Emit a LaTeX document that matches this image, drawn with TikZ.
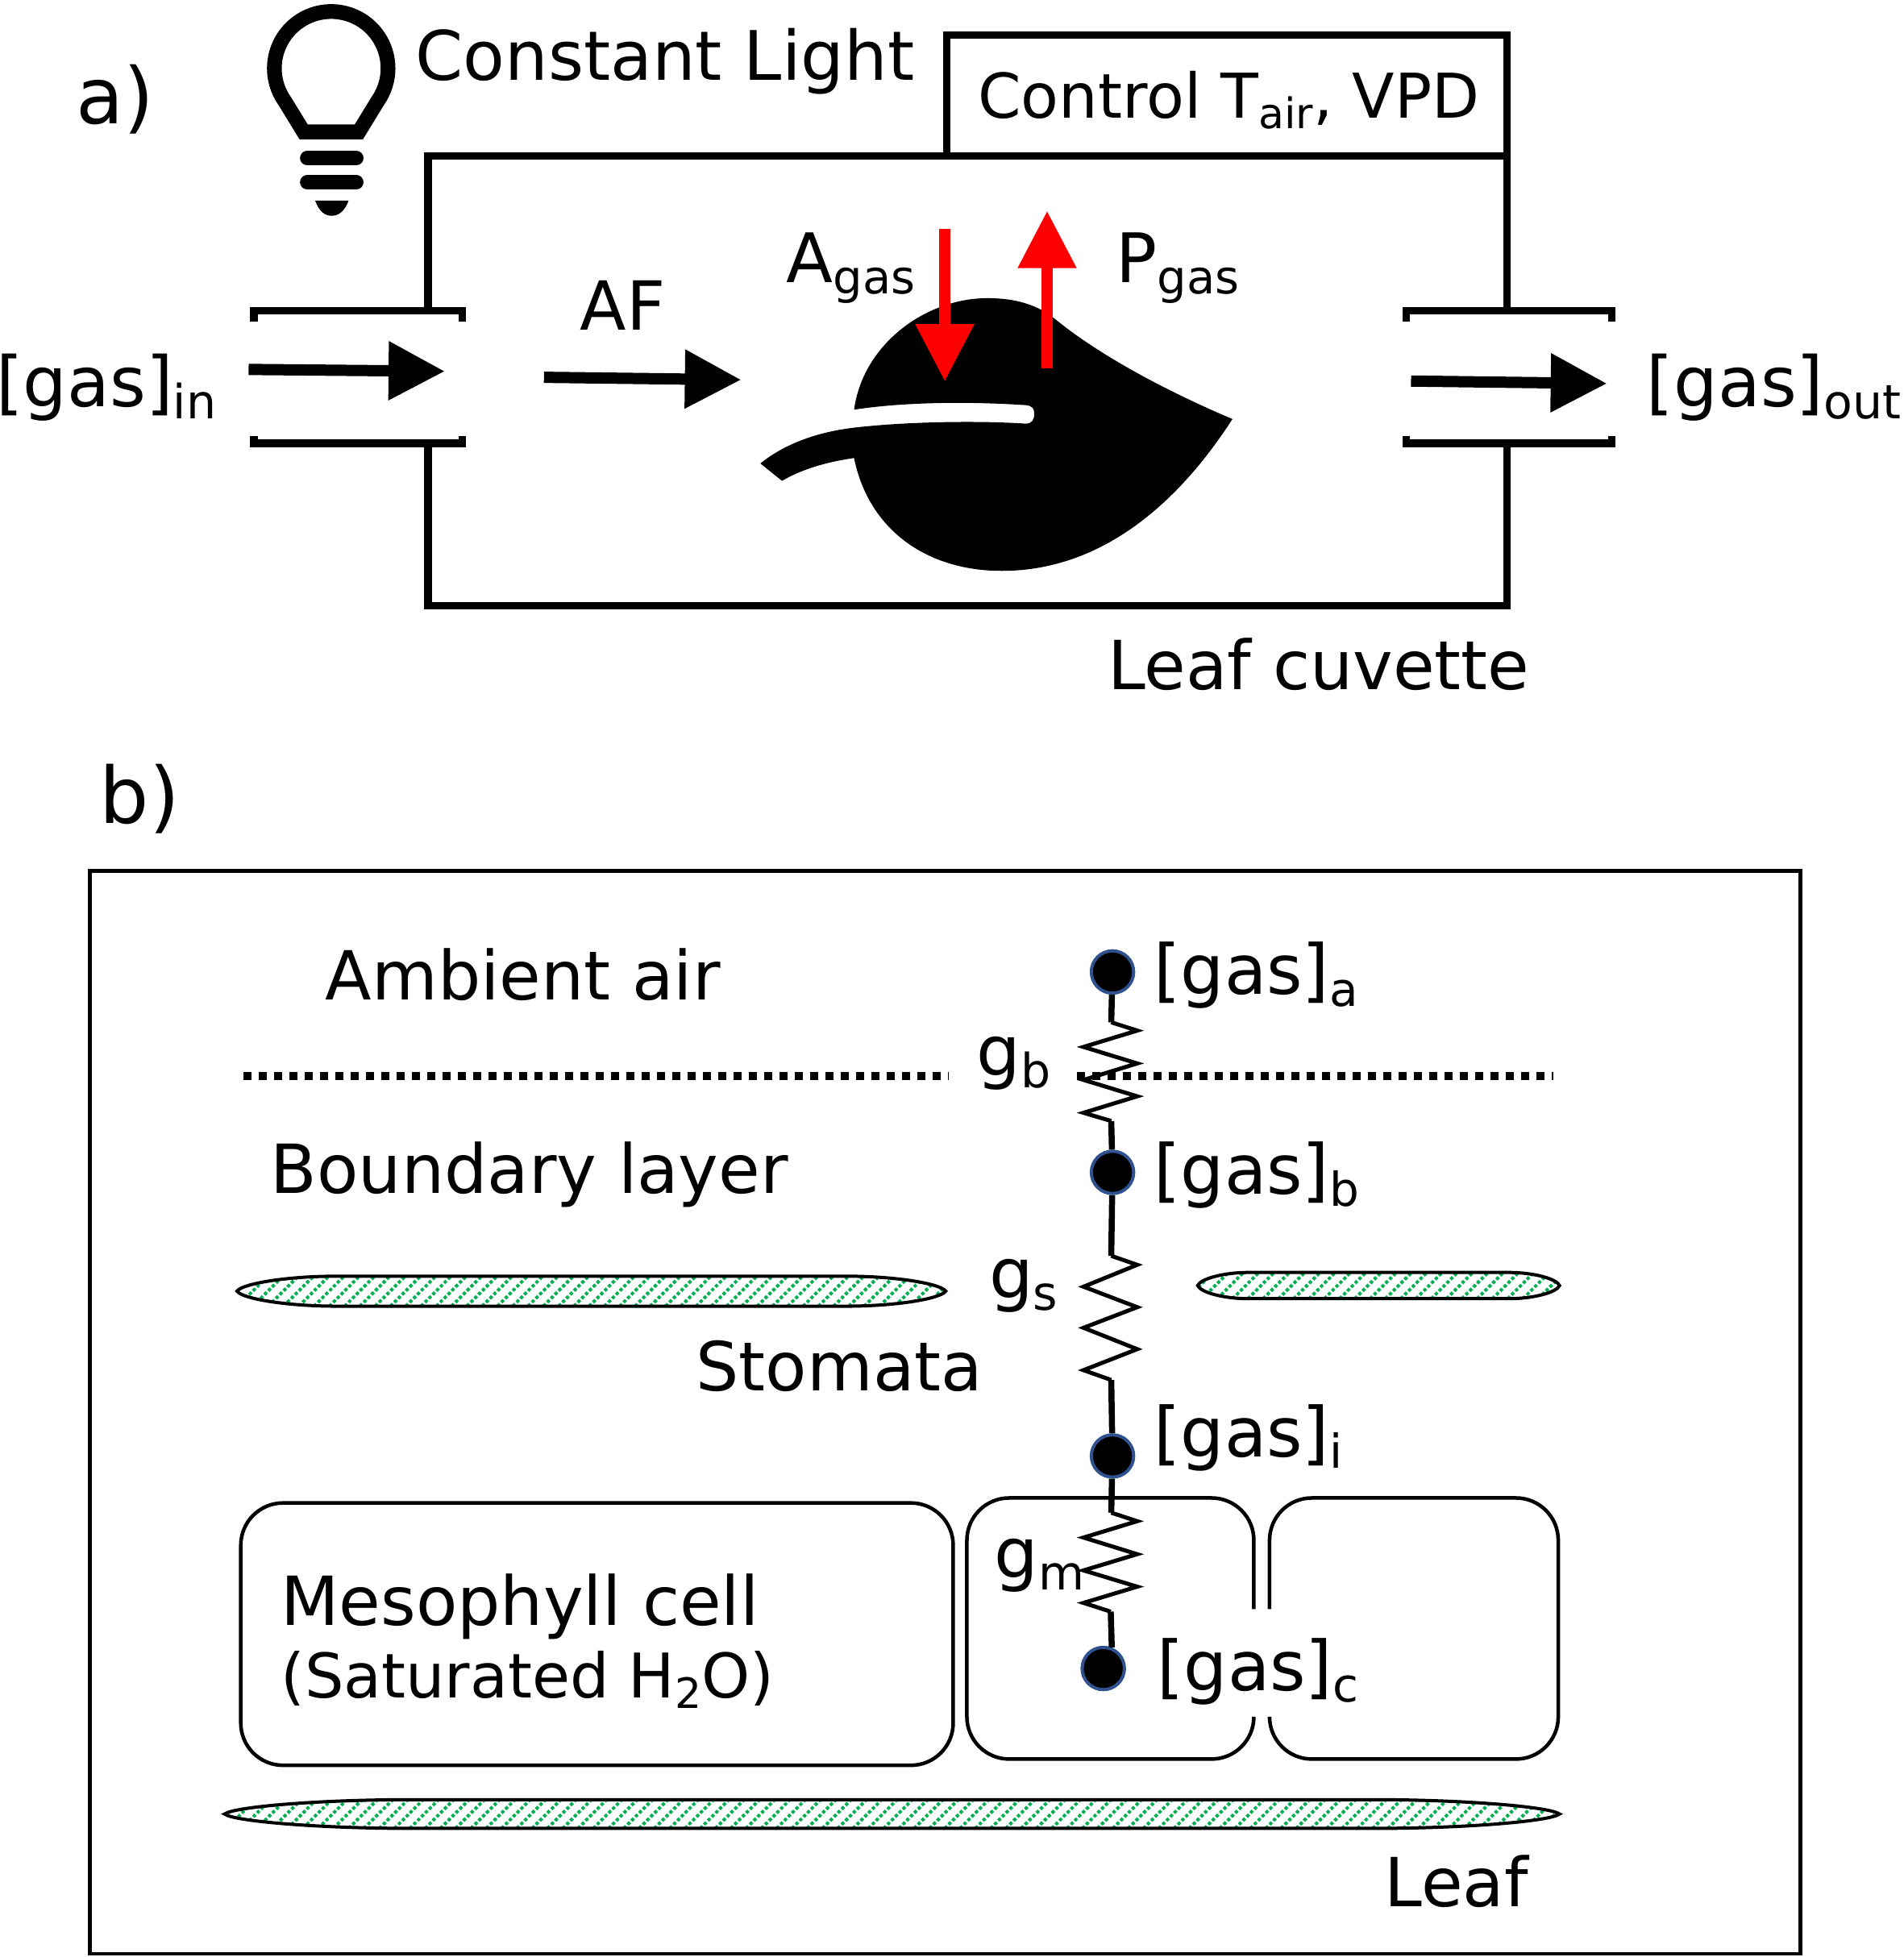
\documentclass[tikz,border=0pt]{standalone}
\usepackage{fontspec}
\usepackage{scalefnt}
\setmainfont{DejaVu Sans}
\usetikzlibrary{arrows.meta}
\definecolor{hatchgreen}{HTML}{00B050}
\definecolor{dotblue}{HTML}{2F528F}
\newcommand{\sbs}[1]{\raisebox{-.17em}{\scalefont{.68}#1}}
\newcommand{\fs}[1]{\fontsize{#1}{#1}\selectfont}
\newcommand{\stomabar}[4]{% x0, x1, yc, half height
  \pgfmathsetmacro{\ell}{0.14*(#2-#1)}
  \pgfmathsetmacro{\xa}{#1+\ell}
  \pgfmathsetmacro{\xb}{#2-\ell}
  \pgfmathsetmacro{\xc}{#1+0.5*\ell}
  \pgfmathsetmacro{\xd}{#2-0.5*\ell}
  \pgfmathsetmacro{\xe}{#1+0.05*\ell}
  \pgfmathsetmacro{\xf}{#2-0.05*\ell}
  \pgfmathsetmacro{\ya}{#3-#4}
  \pgfmathsetmacro{\yb}{#3+#4}
  \pgfmathsetmacro{\yc}{#3-0.5*#4}
  \pgfmathsetmacro{\yd}{#3+0.5*#4}
  \pgfmathtruncatemacro{\nn}{(#2-#1+2*#4)/12.25}
  \begin{scope}
    \clip (#1,#3) .. controls (\xe,\yc) and (\xc,\ya) .. (\xa,\ya) -- (\xb,\ya) .. controls (\xd,\ya) and (\xf,\yc) .. (#2,#3) .. controls (\xf,\yd) and (\xd,\yb) .. (\xb,\yb) -- (\xa,\yb) .. controls (\xc,\yb) and (\xe,\yd) .. cycle;
    \foreach \k in {0,...,\nn} {
      \pgfmathsetmacro{\xx}{#1-2*#4+12.25*\k}
      \draw[hatchline] (\xx,\yb) -- ++(2*#4,-2*#4);
    }
  \end{scope}
  \draw[barline] (#1,#3) .. controls (\xe,\yc) and (\xc,\ya) .. (\xa,\ya) -- (\xb,\ya) .. controls (\xd,\ya) and (\xf,\yc) .. (#2,#3) .. controls (\xf,\yd) and (\xd,\yb) .. (\xb,\yb) -- (\xa,\yb) .. controls (\xc,\yb) and (\xe,\yd) .. cycle;
}
\begin{document}
\begin{tikzpicture}[x=0.03096cm,y=-0.031cm,
  lab/.style={anchor=base west,inner sep=0pt,outer sep=0pt,font=\fs{47.8}},
  gaslab/.style={lab,font=\fs{49}},
  box/.style={draw=black,line width=0.186cm,miter limit=10},
  flow/.style={line width=0.28cm,-{Triangle[length=1.395cm,width=1.395cm]}},
  redflow/.style={draw=red,line width=0.27cm,-{Triangle[length=1.42cm,width=1.39cm]}},
  cell/.style={draw=black,line width=0.09cm},
  wire/.style={draw=black,line width=0.1cm,line join=miter},
  lead/.style={draw=black,line width=0.15cm},
  gasdot/.style={circle,fill=black,draw=dotblue,line width=0.08cm,inner sep=0pt,minimum size=1.05cm},
  dots/.style={draw=black,line width=0.2cm,dash pattern=on 0.2cm off 0.18cm},
  hatchline/.style={draw=hatchgreen,line width=0.08cm,dash pattern=on 0.08cm off 0.055cm},
  barline/.style={draw=black,line width=0.08cm}]
\useasboundingbox (0,0) rectangle (1525.9,1566.45);

% --- part a ---
\node[lab,font=\fs{55}] (la) at (61,99) {a)};
% lamp
\begin{scope}[shift={(193.5,0)},x=0.006656cm,y=-0.006656cm]
  \draw[line width=0.366cm,miter limit=10] (232,492) -- (161.3,376.6) arc[start angle=145,end angle=395,radius=212] -- (438,492) -- cycle;
  \draw[line width=0.366cm,line cap=round] (246,590) -- (428,590);
  \draw[line width=0.366cm,line cap=round] (246,680) -- (428,680);
  \fill (275,748) -- (400,748) .. controls (385,790) and (360,805) .. (337,805) .. controls (312,805) and (290,790) .. (275,748) -- cycle;
\end{scope}
\node[lab,font=\fs{48.2}] (tlight) at (333,64) {Constant Light};
% cuvette
\draw[box] (343,248.7) -- (343,125) -- (1208,125) -- (1208,248.7);
\draw[box] (343,354.8) -- (343,485) -- (1208,485) -- (1208,354.8);
\draw[box] (759,125) -- (759,28) -- (1208,28) -- (1208,125);
\node[lab,font=\fs{43.6}] (tctrl) at (784,94.5) {Control T\sbs{air}, VPD};
% tubes
\draw[box] (203.6,257.7) -- (203.6,248.7) -- (370.5,248.7) -- (370.5,257.7);
\draw[box] (203.6,348.8) -- (203.6,354.8) -- (370.5,354.8) -- (370.5,348.8);
\draw[box] (1127,257.7) -- (1127,248.7) -- (1292,248.7) -- (1292,257.7);
\draw[box] (1127,348.8) -- (1127,354.8) -- (1292,354.8) -- (1292,348.8);
% flow arrows
\coordinate (ina) at (199.3,295.7);
\coordinate (inb) at (356.5,297.2);
\coordinate (afa) at (436,302);
\coordinate (afb) at (594,304);
\coordinate (outa) at (1131,305);
\coordinate (outb) at (1288,307);
\draw[flow] (ina) -- (inb);
\draw[flow] (afa) -- (afb);
\draw[flow] (outa) -- (outb);
\node[gaslab] (tin) at (-3,325.5) {[gas]\sbs{in}};
\node[lab] (taf) at (465,264) {AF};
\node[gaslab] (tout) at (1320,325.5) {[gas]\sbs{out}};
% leaf
\begin{scope}[shift={(580.6,154.8)},x=0.00894cm,y=-0.006665cm]
  \fill (360,805) .. controls (385,560) and (560,390) .. (730,390)
    .. controls (810,390) and (870,415) .. (920,470)
    .. controls (1030,590) and (1200,720) .. (1410,840)
    .. controls (1290,1090) and (1080,1405) .. (770,1405)
    .. controls (560,1405) and (400,1250) .. (360,985)
    .. controls (280,1000) and (210,1030) .. (160,1070)
    -- (100,1005)
    .. controls (170,930) and (260,888) .. (360,872)
    .. controls (500,850) and (700,845) .. (835,857)
    .. controls (855,858) and (860,840) .. (860,822)
    .. controls (860,800) and (855,790) .. (835,788)
    .. controls (650,772) and (480,780) .. (360,805) -- cycle;
\end{scope}
% red arrows
\coordinate (adn) at (757.3,183.4);
\coordinate (adnb) at (757.3,305.3);
\coordinate (pup) at (839.3,294.6);
\coordinate (pupb) at (839.3,168.8);
\draw[redflow] (adn) -- (adnb);
\draw[redflow] (pup) -- (pupb);
\node[lab,font=\fs{48.2}] (tagas) at (630.5,226) {A\sbs{gas}};
\node[lab,font=\fs{48.2}] (tpgas) at (894.5,226) {P\sbs{gas}};
\node[lab] (tcuv) at (888,552) {Leaf cuvette};

% --- part b ---
\node[lab,font=\fs{55}] (lb) at (80,659) {b)};
\draw[cell] (72,697) rectangle (1443,1564);
\node[lab] (tamb) at (261,800) {Ambient air};
\node[lab] (tbl) at (217,955) {Boundary layer};
\node[lab] (tsto) at (558,1113) {Stomata};
\node[lab] (tmes) at (225,1301) {Mesophyll cell};
\node[lab,font=\fs{43.5}] (tsat) at (225,1359) {(Saturated H\sbs{2}O)};
\node[lab] (tleaf) at (1110,1526) {Leaf};
\draw[dots] (195,861) -- (760,861);
\draw[dots] (863,861) -- (1245,861);
% cells
\draw[cell,rounded corners=1.05cm] (193,1203) rectangle (764,1413);
\draw[cell,rounded corners=1.05cm] (1005,1288) -- (1005,1199) -- (775,1199) -- (775,1408) -- (1005,1408) -- (1005,1376);
\draw[cell,rounded corners=1.05cm] (1017.6,1288) -- (1017.6,1199) -- (1249,1199) -- (1249,1408) -- (1017.6,1408) -- (1017.6,1376);
% epidermis
\stomabar{190}{758}{1033.5}{12}
\stomabar{960}{1250}{1029}{10.5}
\stomabar{180}{1250}{1452}{11.5}
% conductance chain
\node[gasdot] (da) at (891.7,778) {};
\node[gasdot] (db) at (891.7,938.4) {};
\node[gasdot] (di) at (891.7,1165.4) {};
\node[gasdot] (dc) at (884.3,1335.5) {};
\coordinate (a1) at (890.7,818.3);
\coordinate (a2) at (890.7,897.3);
\coordinate (b1) at (890.7,1005.2);
\coordinate (b2) at (890.7,1104.6);
\coordinate (c1) at (890.7,1210.8);
\coordinate (c2) at (890.3,1290);
\draw[lead] (da) -- (a1);
\draw[lead] (a2) -- (db);
\draw[lead] (db) -- (b1);
\draw[lead] (b2) -- (di);
\draw[lead] (di) -- (c1);
\draw[lead] (c2) -- (dc.68);
\draw[wire] (a1) -- (911.5,824.9) -- (868.5,838) -- (911.5,851.2) -- (868.5,864.4) -- (911.5,877.5) -- (868.5,890.7) -- (a2);
\draw[wire] (b1) -- (911.5,1012.4) -- (868.5,1029.9) -- (911.5,1046.3) -- (868.5,1062.8) -- (911.5,1079.9) -- (868.5,1096.7) -- (b2);
\draw[wire] (c1) -- (911.5,1217.6) -- (868.5,1230.7) -- (911.5,1244) -- (868.5,1257) -- (911.5,1270) -- (868.5,1283) -- (c2);
\node[gaslab,font=\fs{48.6}] (tga) at (925,796) {[gas]\sbs{a}};
\node[gaslab,font=\fs{48.6}] (tgb) at (925,956) {[gas]\sbs{b}};
\node[gaslab,font=\fs{48.6}] (tgi) at (925,1166) {[gas]\sbs{i}};
\node[gaslab,font=\fs{48.6}] (tgc) at (927.5,1353) {[gas]\sbs{c}};
\node[gaslab] (tgbb) at (783,861) {g\sbs{b}};
\node[gaslab] (tgs) at (793,1039) {g\sbs{s}};
\node[gaslab] (tgm) at (797,1263) {g\sbs{m}};
\end{tikzpicture}
\end{document}
